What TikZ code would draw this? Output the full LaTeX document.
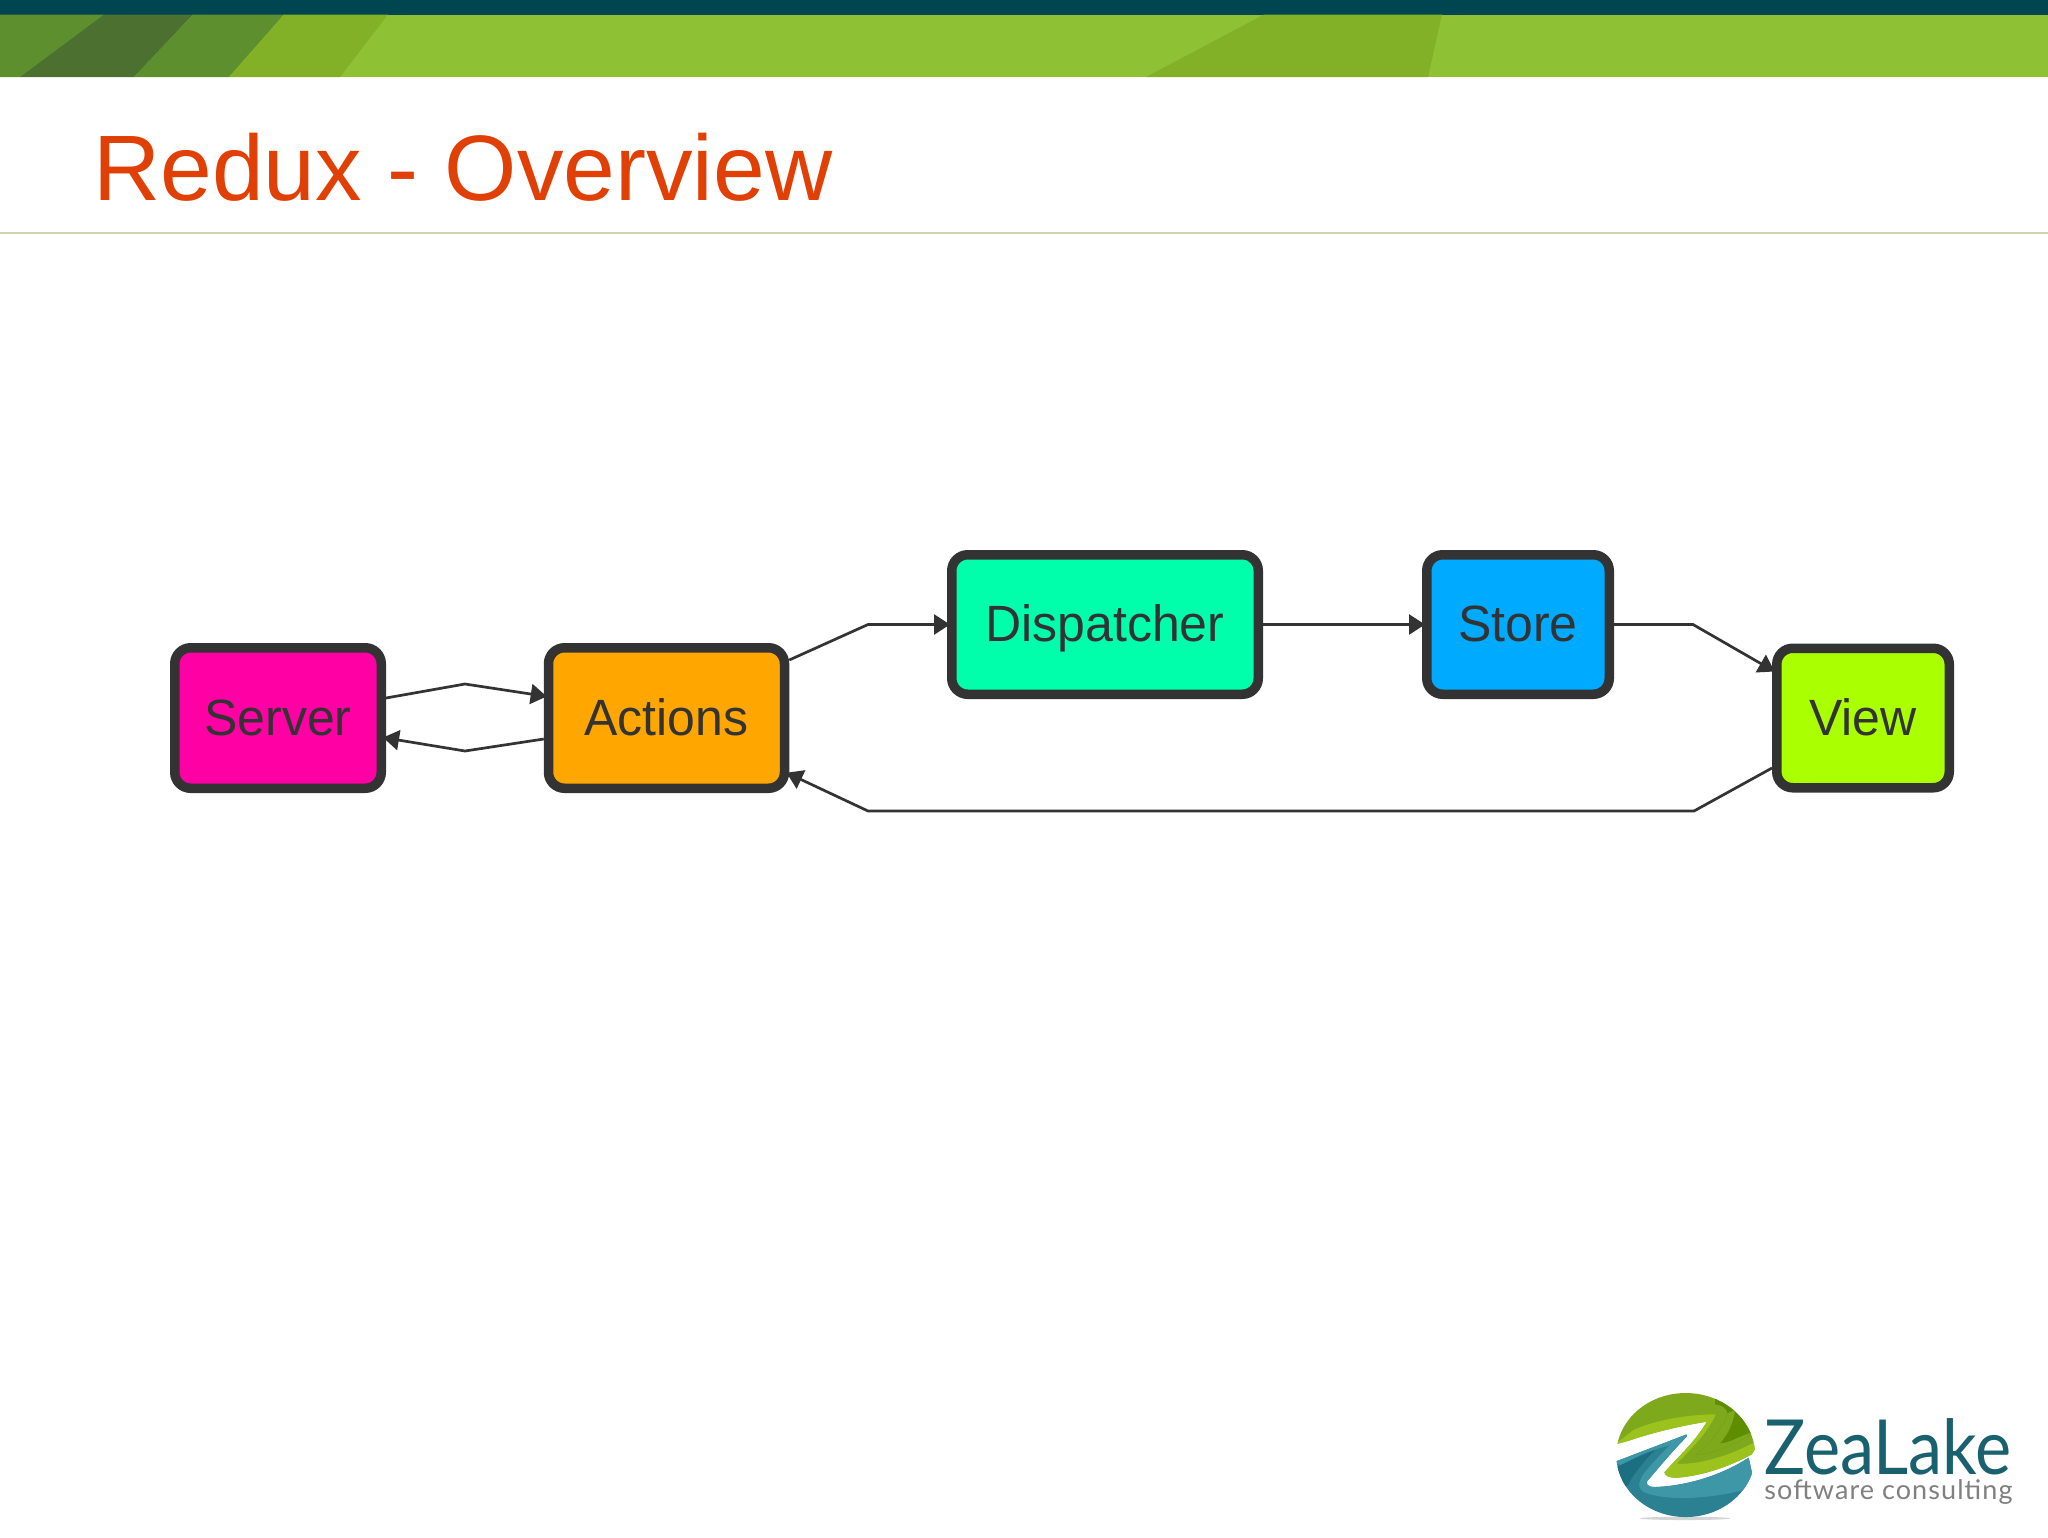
\documentclass[tikz,border=0pt]{standalone}
\usepackage{fontspec}
\usetikzlibrary{arrows.meta,calc}
\setmainfont{Liberation Sans}
\newfontfamily\boxfont[FakeStretch=0.98]{Liberation Sans}
\newfontfamily\zealfont[FakeStretch=0.90]{Lato}
\newfontfamily\softfont[LetterSpace=4]{Lato}
\definecolor{bandteal}{HTML}{004650}
\definecolor{bandgreen}{HTML}{8EC134}
\definecolor{shadeA}{HTML}{5E8F2F}
\definecolor{shadeB}{HTML}{4C702F}
\definecolor{shadeC}{HTML}{82B128}
\definecolor{titlered}{HTML}{E04006}
\definecolor{rulegreen}{HTML}{CDD6AC}
\definecolor{ink}{HTML}{333333}
\definecolor{logoA}{HTML}{9CC21E}
\definecolor{logoB}{HTML}{7EA91C}
\definecolor{logoC}{HTML}{5E8D00}
\definecolor{logoD}{HTML}{3D97A6}
\definecolor{logoE}{HTML}{2B8091}
\definecolor{logoF}{HTML}{1C6E81}
\definecolor{logotext}{HTML}{1A6170}
\tikzset{
  flowbox/.style={draw=ink,line width=4.75pt,rounded corners=8pt,inner sep=0pt,
    text=ink,font=\boxfont\fontsize{25.5}{28}\selectfont,
    text height=17pt,text depth=0pt,align=center},
  link/.style={draw=ink,line width=1.35pt,shorten >=-1.5pt,-{Triangle[length=8pt,width=10pt]}}
}
\begin{document}
\begin{tikzpicture}[x=0.5pt,y=-0.5pt]
\useasboundingbox (0,0) rectangle (2048,1537);
\fill[white] (0,0) rectangle (2048,1537);
% header
\fill[bandgreen] (0,14) rectangle (2048,77);
\fill[bandteal] (0,0) rectangle (2048,14.5);
\fill[shadeA] (0,14.5) -- (104,14.5) -- (20,77) -- (0,77) -- cycle;
\fill[shadeB] (104,14.5) -- (193,14.5) -- (134,77) -- (20,77) -- cycle;
\fill[shadeA] (193,14.5) -- (284,14.5) -- (229,77) -- (134,77) -- cycle;
\fill[shadeC] (284,14.5) -- (388,14.5) -- (340,77) -- (229,77) -- cycle;
\fill[shadeC] (1264,14.5) -- (1442,14.5) -- (1428,77) -- (1146,77) -- cycle;
\draw[rulegreen,line width=1pt] (0,232.5) -- (2048,232.5);
\node[anchor=base west,inner sep=0pt,text=titlered,font=\fontsize{46.5}{50}\selectfont] (title) at (93,200) {Redux - Overview};
% boxes
\node[flowbox,minimum width=206.5*0.5pt,minimum height=140.5*0.5pt,fill={rgb,255:red,255;green,0;blue,165}] (server) at (278,718) {Server};
\node[flowbox,minimum width=236*0.5pt,minimum height=140.5*0.5pt,fill={rgb,255:red,255;green,166;blue,0}] (actions) at (666.5,718) {Actions};
\node[flowbox,minimum width=306.5*0.5pt,minimum height=139.5*0.5pt,fill={rgb,255:red,0;green,255;blue,170}] (dispatcher) at (1105,624.5) {Dispatcher};
\node[flowbox,minimum width=182.5*0.5pt,minimum height=139.5*0.5pt,fill={rgb,255:red,0;green,170;blue,255}] (store) at (1518,624.5) {Store};
\node[flowbox,minimum width=172.5*0.5pt,minimum height=139.5*0.5pt,fill={rgb,255:red,170;green,255;blue,0}] (view) at (1863,718) {View};
% connector bends
\coordinate (sa) at (465,684);
\coordinate (as) at (465,751);
\coordinate (ad) at (868,624.5);
\coordinate (sv) at (1693,624.5);
\coordinate (va) at (1694,811);
\coordinate (vb) at (868,811);
% connectors
\draw[link] ($(server.east)+(0,-20)$) -- (sa) -- ($(actions.west)+(0,-22)$);
\draw[link] ($(actions.west)+(0,21)$) -- (as) -- ($(server.east)+(0,20)$);
\draw[link] ($(actions.east)+(0,-58)$) -- (ad) -- (dispatcher.west);
\draw[link] (dispatcher.east) -- (store.west);
\draw[link] (store.east) -- (sv) -- ($(view.west)+(0,-48)$);
\draw[link] ($(view.west)+(0,50)$) -- (va) -- (vb) -- ($(actions.east)+(0,56)$);
% logo
\begin{scope}[shift={(1605,1385)},x=0.1667pt,y=-0.1667pt]
  \fill[black!17] (240,400) ellipse [x radius=135,y radius=5];
  \begin{scope}
    \clip (242,210) ellipse [x radius=208,y radius=186];
    % green half
    \fill[logoB] (30,178) -- (68,168) .. controls (150,140) and (240,120) .. (305,110)
      .. controls (275,165) and (220,215) .. (178,262)
      .. controls (180,272) and (190,278) .. (215,278)
      .. controls (300,272) and (380,240) .. (440,208) -- (470,160) -- (470,10) -- (30,10) -- cycle;
    \fill[logoA] (30,178) -- (68,168) .. controls (150,140) and (240,120) .. (305,110)
      .. controls (275,165) and (220,215) .. (178,262)
      .. controls (180,272) and (190,278) .. (215,278)
      .. controls (300,272) and (380,240) .. (440,208) -- (470,160)
      .. controls (400,200) and (300,240) .. (215,236)
      .. controls (260,190) and (310,140) .. (332,88)
      .. controls (250,88) and (150,105) .. (85,135) -- cycle;
    \fill[logoC] (330,58) .. controls (350,60) and (365,70) .. (368,85)
      .. controls (355,125) and (320,170) .. (275,208)
      .. controls (340,205) and (400,170) .. (470,130) -- (470,10) -- (330,10) -- cycle;
    \fill[logoB] (368,85) .. controls (355,125) and (320,170) .. (275,208)
      .. controls (340,205) and (400,170) .. (470,130) -- (445,140)
      .. controls (400,155) and (370,175) .. (345,175)
      .. controls (370,145) and (385,115) .. (390,75) -- cycle;
    % teal half
    \fill[logoE] (20,234) -- (245,148) -- (245,155)
      .. controls (200,200) and (160,250) .. (125,290)
      .. controls (125,300) and (130,306) .. (150,306)
      .. controls (250,302) and (350,270) .. (431,218) -- (470,400) -- (20,400) -- cycle;
    \fill[logoD] (20,234) -- (245,148) -- (245,155)
      .. controls (200,200) and (160,250) .. (125,290)
      .. controls (125,300) and (130,306) .. (150,306)
      .. controls (250,302) and (350,270) .. (431,218) -- (450,305)
      .. controls (340,340) and (200,350) .. (125,325)
      .. controls (90,312) and (100,285) .. (125,255)
      .. controls (150,225) and (175,200) .. (195,180)
      .. controls (140,195) and (90,215) .. (50,240) -- cycle;
    \fill[logoF] (30,248) .. controls (80,225) and (120,205) .. (150,195)
      .. controls (115,230) and (75,280) .. (70,300) -- (20,320) -- cycle;
  \end{scope}
\end{scope}
\node[anchor=base west,inner sep=0pt,text=logotext,font=\zealfont\fontsize{38}{40}\selectfont] (zeal) at (1764,1474) {ZeaLake};
\node[anchor=base west,inner sep=0pt,text=black!50,font=\softfont\fontsize{13.5}{15}\selectfont] (soft) at (1764,1499) {software consulting};
\end{tikzpicture}
\end{document}
